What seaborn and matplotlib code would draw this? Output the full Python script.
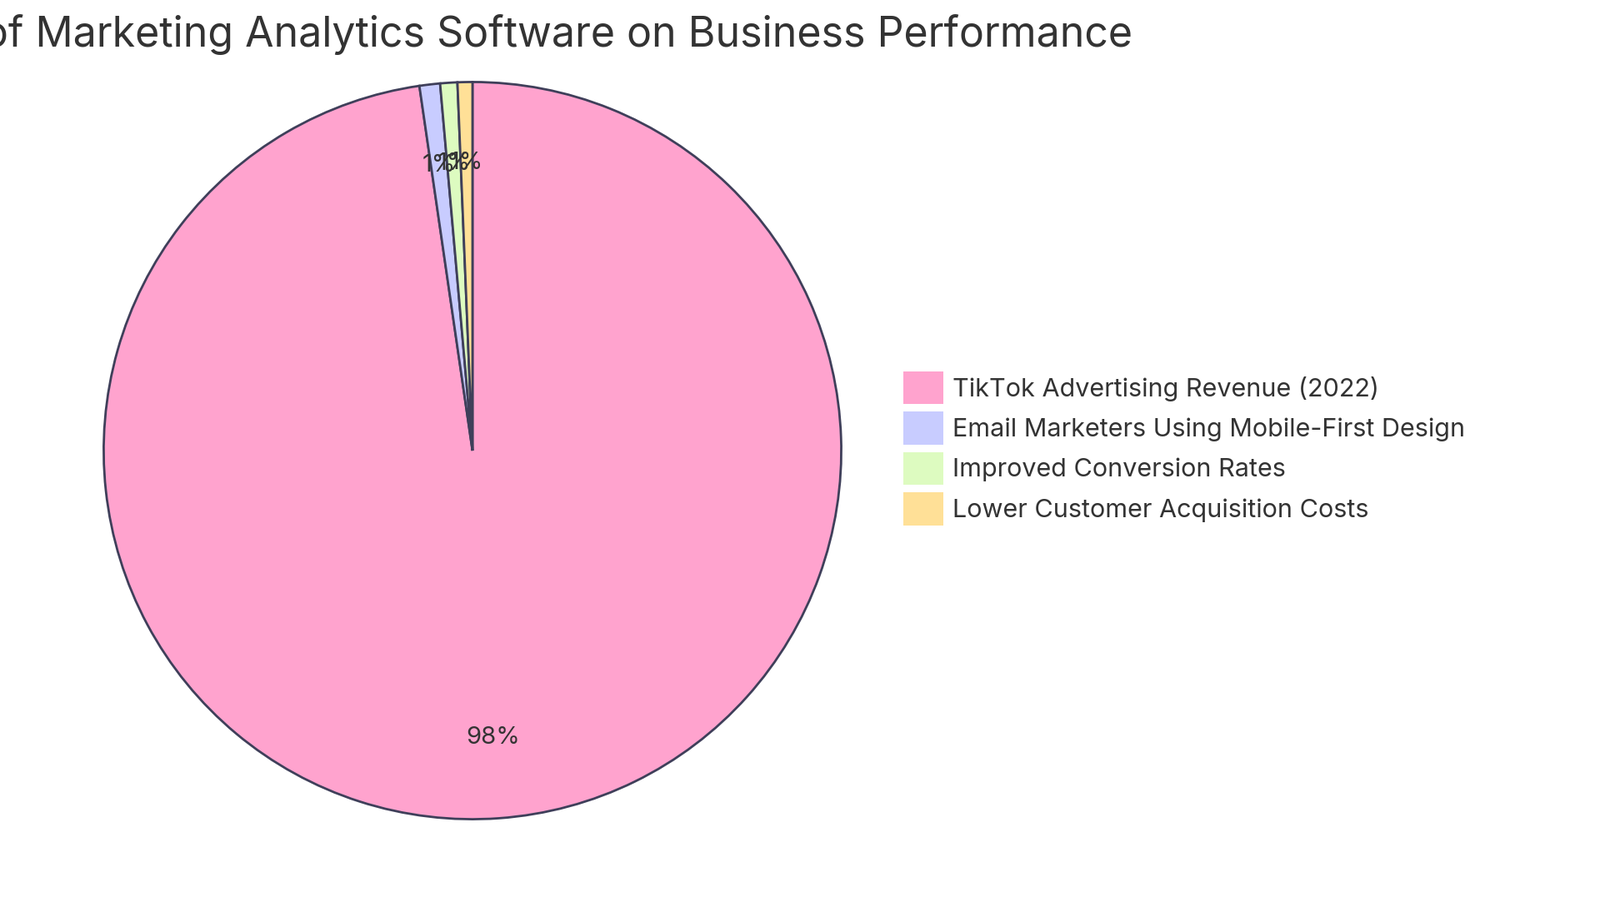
import matplotlib.pyplot as plt
import seaborn as sns

categories = [
    'TikTok Advertising Revenue (2022)',
    'Email Marketers Using Mobile-First Design',
    'Improved Conversion Rates',
    'Lower Customer Acquisition Costs',
]
values = [97.7, 0.9, 0.75, 0.65]
colors = ['#FFA3CE', '#C8CCFF', '#DDFBC0', '#FFE097']
title = 'Impact of Marketing Analytics Software on Business Performance'

sns.set_theme(style='white', rc={'font.family': 'sans-serif',
                                 'font.sans-serif': ['Inter', 'DejaVu Sans']})
text_color = '#333333'
edge = '#3F3F5A'

fig = plt.figure(figsize=(19.2, 10.83), dpi=100)
ax = fig.add_axes([0.0625, 0.0877, 0.4656, 0.8255])
wedges, texts, autotexts = ax.pie(
    values, colors=colors, startangle=90, counterclock=False,
    autopct='%1.0f%%', pctdistance=0.78,
    wedgeprops=dict(edgecolor=edge, linewidth=2),
    textprops=dict(color=text_color, fontsize=21))
ax.set_aspect('equal')
ax.set_xlim(-1.01, 1.01)
ax.set_ylim(-1.01, 1.01)

fig.text(1359 / 1920, 0.962, title, ha='right', va='center',
         fontsize=36, color=text_color)

handles = [plt.Rectangle((0, 0), 1, 1, facecolor=c, edgecolor='none') for c in colors]
fig.legend(handles, categories, loc='center left', bbox_to_anchor=(0.55, 0.503),
           frameon=False, fontsize=22, handlelength=1.6, handleheight=1.6,
           handletextpad=0.35, labelspacing=0.3, labelcolor=text_color)

plt.savefig('out.png', dpi=100, facecolor='white')
plt.close()
